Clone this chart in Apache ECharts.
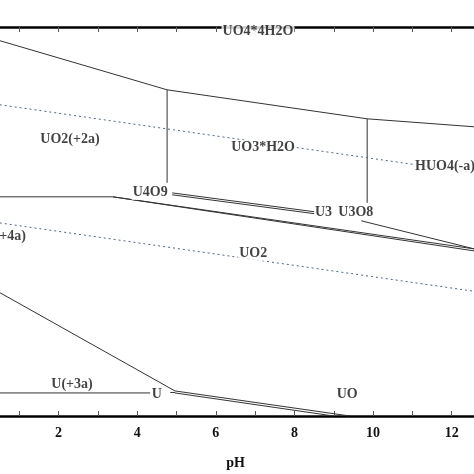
<!DOCTYPE html>
<html>
<head>
<meta charset="UTF-8">
<script src="https://cdn.jsdelivr.net/npm/echarts/dist/echarts.min.js"></script>
<style>
  body { margin: 0; background: #fff; }
  #chart { width: 474px; height: 474px; }
</style>
</head>
<body>
<div id="chart"></div>
<script>
// boundary lines, each as [pH, E] points
const solidLines = [
  [[0.51, 1.867], [4.76, 1.356], [9.85, 1.054], [12.57, 0.971]],
  [[4.76, 1.356], [4.76, 0.388]],
  [[9.85, 1.054], [9.85, 0.179]],
  [[0, 0.242], [3.38, 0.242], [12.57, -0.30]],
  [[3.38, 0.242], [12.57, -0.321]],
  [[4.89, 0.283], [8.53, 0.085]],
  [[4.89, 0.263], [8.53, 0.065]],
  [[9.70, -0.008], [12.57, -0.30]],
  [[0, -0.64], [4.96, -1.779], [9.41, -2.04]],
  [[4.96, -1.80], [9.0, -2.04]],
  [[0, -1.80], [4.33, -1.80]],
  [[4.84, -1.795], [4.96, -1.795]]
];
// water stability lines
const waterUpper = [[0, 1.23], [13, 0.463]];
const waterLower = [[0, 0], [13, -0.767]];

const labels = [
  ['UO4*4H2O', 7.07, 1.96],
  ['UO2(+2a)', 2.29, 0.835],
  ['UO3*H2O', 7.20, 0.76],
  ['HUO4(-a)', 11.83, 0.554],
  ['U4O9', 4.33, 0.283],
  ['U3', 8.74, 0.075],
  ['U3O8', 9.56, 0.085],
  ['U(+4a)', 0.64, -0.165],
  ['UO2', 6.95, -0.352],
  ['U(+3a)', 2.34, -1.706],
  ['U', 4.50, -1.82],
  ['UO', 9.34, -1.82]
];

const font = { fontFamily: 'Liberation Serif', fontWeight: 'bold', fontSize: 14, color: '#111' };

const series = solidLines.map(pts => ({
  type: 'line', data: pts, symbol: 'none', silent: true,
  lineStyle: { color: '#333', width: 1 }
}));
[waterUpper, waterLower].forEach(pts => series.push({
  type: 'line', data: pts, symbol: 'none', silent: true,
  lineStyle: { color: '#4a6a8a', width: 1, type: [2, 3] }
}));
series.push({
  type: 'scatter', symbolSize: 0, z: 10,
  data: labels.map(l => ({ value: [l[1], l[2]], name: l[0] })),
  label: {
    show: true, position: 'inside', formatter: p => p.name,
    backgroundColor: '#fff', padding: [0, 1], ...font
  }
});

const chart = echarts.init(document.getElementById('chart'));
chart.setOption({
  animation: false,
  grid: { left: -20, right: -17, top: 27, bottom: 58, containLabel: false, outerBoundsMode: 'none' },
  xAxis: [{
    type: 'value', min: 0, max: 13, interval: 1,
    name: 'pH', nameLocation: 'middle', nameGap: 40,
    nameTextStyle: font,
    axisLine: { onZero: false, lineStyle: { color: '#000', width: 2.5 } },
    axisTick: { inside: true, length: 5, lineStyle: { color: '#555' } },
    axisLabel: { formatter: v => (v % 2 === 0 && v > 0 ? v : ''), margin: 10, ...font },
    splitLine: { show: false }
  }, {
    type: 'value', position: 'top', min: 0, max: 13, interval: 1,
    axisLine: { show: true, onZero: false, lineStyle: { color: '#000', width: 2.5 } },
    axisTick: { inside: true, length: 5, lineStyle: { color: '#555' } },
    axisLabel: { show: false }, splitLine: { show: false }
  }],
  yAxis: { type: 'value', min: -2.04, max: 2.01, show: false, splitLine: { show: false } },
  series: series
});
</script>
</body>
</html>
